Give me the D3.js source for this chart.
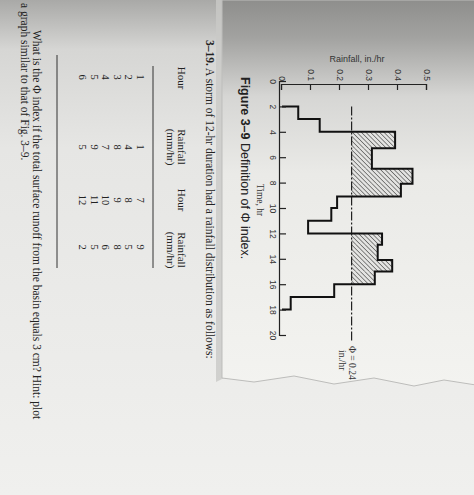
<!DOCTYPE html>
<html><head><meta charset="utf-8">
<script src="https://cdn.jsdelivr.net/npm/d3@7"></script>
<style>html,body{margin:0;padding:0;background:#e9e9e7;overflow:hidden}</style>
</head><body><svg id="c" width="474" height="495"></svg>
<script>
// Hyetograph (Fig. 3-9): step start times (hr) and rainfall (in./hr)
const stepStarts = [2, 3, 4, 5.3, 6.9, 8.1, 9.1, 10, 11, 12, 12.9, 14.1, 15, 16, 17];
const stepEnd = 18;
const rainfall = [0.056, 0.13, 0.39, 0.31, 0.45, 0.41, 0.19, 0.17, 0.09, 0.345, 0.33, 0.38, 0.32, 0.18, 0.03];
const phi = 0.24;
const timeTicks = [0, 2, 4, 6, 8, 10, 12, 14, 16, 18, 20];
const rainTicks = [0, 0.1, 0.2, 0.3, 0.4, 0.5];
// Problem 3-19 table
const hours1 = [1, 2, 3, 4, 5, 6];
const rain1 = [1, 4, 8, 7, 9, 5];
const hours2 = [7, 8, 9, 10, 11, 12];
const rain2 = [9, 5, 8, 6, 5, 2];

const svg = d3.select("#c");
const defs = svg.append("defs");
const bg = defs.append("linearGradient").attr("id","bg").attr("x1",0).attr("y1",0).attr("x2",1).attr("y2",0);
bg.append("stop").attr("offset","0").attr("stop-color","#a9a9a7");
bg.append("stop").attr("offset","0.1").attr("stop-color","#d6d6d4");
bg.append("stop").attr("offset","0.3").attr("stop-color","#e6e6e4");
bg.append("stop").attr("offset","1").attr("stop-color","#f0f0ee");
const tp = defs.append("linearGradient").attr("id","tp").attr("x1",0).attr("y1",0).attr("x2",1).attr("y2",0);
tp.append("stop").attr("offset","0").attr("stop-color","#8e8e8c");
tp.append("stop").attr("offset","0.1").attr("stop-color","#a3a3a1");
tp.append("stop").attr("offset","0.25").attr("stop-color","#d6d6d4");
tp.append("stop").attr("offset","0.45").attr("stop-color","#eaeae7");
tp.append("stop").attr("offset","1").attr("stop-color","#f3f3f0");
const pat = defs.append("pattern").attr("id","hatch").attr("patternUnits","userSpaceOnUse")
  .attr("width",3.2).attr("height",3.2).attr("patternTransform","rotate(45)");
pat.append("rect").attr("width",3.2).attr("height",3.2).attr("fill","#e4e4e2");
pat.append("line").attr("x1",0).attr("y1",0).attr("x2",0).attr("y2",3.2).attr("stroke","#333").attr("stroke-width",1.1);

// Page rotated 90deg clockwise: page (u,v) -> image (474 - v, u)
const g = svg.append("g").attr("transform","translate(474,0) rotate(90)");
g.append("rect").attr("x",0).attr("y",0).attr("width",495).attr("height",474).attr("fill","url(#bg)");
// shadow under torn paper
g.append("path").attr("d","M0,250 L378,250 L382,258 L0,258 Z").attr("fill","#c9c9c7").attr("opacity",0.8);
// torn paper piece
g.append("path").attr("d","M0,-2 L385,-2 L380,30 L386,60 L378,100 L384,140 L376,180 L382,220 L378,252 L0,252 Z")
  .attr("fill","url(#tp)").attr("stroke","#bdbdbb").attr("stroke-width",1);

const x = d3.scaleLinear().domain([0,20]).range([81,335]);
const y = d3.scaleLinear().domain([0,0.5]).range([192,47]);

const sans = "Liberation Sans, Arial, sans-serif";
const serif = "Liberation Serif, Times New Roman, serif";

// hatched excess region
const segs = stepStarts.map((s,i)=>({t0:s, t1: i<stepStarts.length-1? stepStarts[i+1]: stepEnd, r: rainfall[i]}));
g.selectAll("rect.h").data(segs.filter(d=>d.r>phi)).enter().append("rect")
  .attr("x",d=>x(d.t0)).attr("width",d=>x(d.t1)-x(d.t0))
  .attr("y",d=>y(d.r)).attr("height",d=>y(phi)-y(d.r)).attr("fill","url(#hatch)");

// phi line
g.append("line").attr("x1",x(2)).attr("x2",x(20.5)).attr("y1",y(phi)).attr("y2",y(phi))
  .attr("stroke","#222").attr("stroke-width",1.2).attr("stroke-dasharray","9,2,2,2");

// step outline
const pts = [];
segs.forEach(d=>{pts.push([d.t0,d.r]);pts.push([d.t1,d.r]);});
pts.unshift([2,0]); pts.push([stepEnd,0]);
g.append("path").attr("d",d3.line().x(d=>x(d[0])).y(d=>y(d[1])).curve(d3.curveLinear)(pts))
  .attr("fill","none").attr("stroke","#111").attr("stroke-width",2);

// axes
const ax = g.append("g").attr("transform","translate(0,194)")
  .call(d3.axisBottom(x).tickValues(timeTicks).tickSizeInner(-6).tickSizeOuter(-6).tickPadding(4));
const ay = g.append("g").attr("transform","translate(84,0)")
  .call(d3.axisLeft(y).tickValues(rainTicks).tickFormat((d,i)=>d===0?"0":d3.format(".1f")(d)).tickSizeInner(-6).tickSizeOuter(-6).tickPadding(3));
[ax,ay].forEach(a=>{a.selectAll("path,line").attr("stroke","#222").attr("stroke-width",1.2);
  a.selectAll("text").attr("font-family",sans).attr("font-size",8.5).attr("fill","#333");});

g.append("text").attr("transform","translate(62,117) rotate(-90)").attr("text-anchor","middle")
  .attr("font-family",sans).attr("font-size",9).attr("fill","#333").text("Rainfall, in./hr");
g.append("text").attr("x",200).attr("y",217).attr("text-anchor","middle")
  .attr("font-family",serif).attr("font-size",9.5).attr("fill","#333").text("Time, hr");
g.append("text").attr("x",346).attr("y",y(phi)+3).attr("font-family",serif).attr("font-size",9.5).attr("fill","#333").text("Φ = 0.24");
g.append("text").attr("x",350).attr("y",y(phi)+13).attr("font-family",serif).attr("font-size",9.5).attr("fill","#333").text("in./hr");

const cap = g.append("text").attr("x",77).attr("y",233).attr("font-family",sans).attr("font-size",12.5).attr("fill","#222");
cap.append("tspan").attr("font-weight","bold").text("Figure 3–9");
cap.append("tspan").text(" Definition of Φ index.");

const txt = (s,u,v,opt={}) => g.append("text").attr("x",u).attr("y",v).attr("font-family",serif)
  .attr("font-size",opt.size||11.5).attr("fill","#222").attr("text-anchor",opt.anchor||"start")
  .attr("font-weight",opt.bold?"bold":"normal").text(s);
const t1 = g.append("text").attr("x",40).attr("y",268).attr("font-family",serif).attr("font-size",11.5).attr("fill","#222");
t1.append("tspan").attr("font-weight","bold").text("3–19.");
t1.append("tspan").text(" A storm of 12-hr duration had a rainfall distribution as follows:");

txt("Hour",78,296,{anchor:"middle",size:11});
txt("Rainfall",147,296,{anchor:"middle",size:11});
txt("(mm/hr)",147,307,{anchor:"middle",size:11});
txt("Hour",200,296,{anchor:"middle",size:11});
txt("Rainfall",250,296,{anchor:"middle",size:11});
txt("(mm/hr)",250,307,{anchor:"middle",size:11});
g.append("line").attr("x1",66).attr("x2",268).attr("y1",321).attr("y2",321).attr("stroke","#333").attr("stroke-width",1);
g.append("line").attr("x1",55).attr("x2",268).attr("y1",417).attr("y2",417).attr("stroke","#333").attr("stroke-width",1);
const rowY = d3.scaleLinear().domain([0,5]).range([337,395]);
hours1.forEach((h,i)=>{
  txt(String(h),77,rowY(i),{anchor:"middle",size:10.5});
  txt(String(rain1[i]),147,rowY(i),{anchor:"middle",size:10.5});
  txt(String(hours2[i]),200,rowY(i),{anchor:"middle",size:10.5});
  txt(String(rain2[i]),247,rowY(i),{anchor:"middle",size:10.5});
});
txt("What is the Φ index if the total surface runoff from the basin equals 3 cm? Hint: plot",30,441,{size:11.5});
txt("a graph similar to that of Fig. 3–9.",3,453,{size:11.5});
</script></body></html>
